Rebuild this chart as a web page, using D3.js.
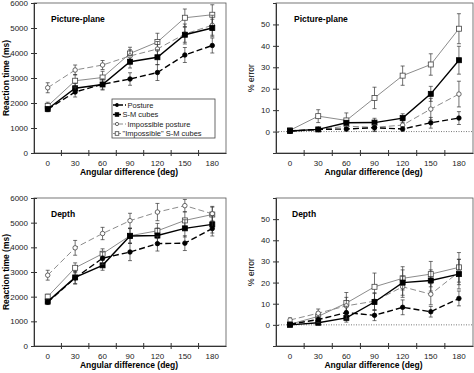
<!DOCTYPE html>
<html>
<head>
<meta charset="utf-8">
<title>rotation</title>
<script src="https://cdn.jsdelivr.net/npm/d3@7"></script>
<style>
  body { margin: 0; background: #fff; }
  text { font-family: Arial, "Liberation Sans", sans-serif; }
</style>
</head>
<body>
<svg width="474" height="373" id="mainsvg"></svg>
<script>
// angles (x categories)
const angles = [0, 30, 60, 90, 120, 150, 180];
const seriesNames = ['Posture', 'S-M cubes', 'Impossible posture', '"Impossible" S-M cubes'];

// reaction time, picture-plane (ms)
const rtPlanePosture = [1750, 2440, 2750, 2960, 3220, 3920, 4300];
const rtPlaneSM      = [1760, 2590, 2740, 3650, 3830, 4730, 5000];
const rtPlaneImpPos  = [2610, 3320, 3520, 3880, 4160, 4760, 5110];
const rtPlaneImpSM   = [1880, 2890, 3020, 3980, 4440, 5410, 5530];
const rtPlaneErr = [[100, 200, 200, 250, 320, 300, 300], [100, 200, 220, 250, 300, 300, 350],
                    [200, 200, 180, 250, 300, 400, 400], [150, 250, 250, 250, 350, 350, 400]];

// reaction time, depth (ms)
const rtDepthPosture = [1780, 2760, 3560, 3810, 4150, 4170, 4760];
const rtDepthSM      = [1800, 2780, 3270, 4460, 4480, 4770, 4930];
const rtDepthImpPos  = [2870, 3980, 4560, 5080, 5430, 5690, 5360];
const rtDepthImpSM   = [2000, 3170, 3740, 4470, 4670, 5090, 5330];
const rtDepthErr = [[100, 250, 250, 350, 300, 300, 300], [100, 250, 200, 300, 300, 350, 350],
                    [200, 300, 250, 300, 350, 250, 300], [100, 200, 200, 300, 300, 350, 300]];

// % error, picture-plane
const erPlanePosture = [0.2, 1, 1.2, 1.8, 1.2, 4.1, 6.3];
const erPlaneSM      = [0.3, 1, 4.1, 4.2, 6.3, 17.6, 33.3];
const erPlaneImpPos  = [0.5, 1, 2.5, 2, 3, 10.5, 17.5];
const erPlaneImpSM   = [0.6, 7.2, 5.2, 15.7, 26.1, 31.3, 48];
const erPlaneErr = [[0.5, 0.5, 1, 1.5, 1, 2.5, 3], [0.5, 0.5, 1, 2, 2, 3.5, 6.5],
                    [0.5, 0.5, 1.5, 2, 2, 5, 6], [1, 3, 3.5, 5, 4.5, 5, 7]];

// % error, depth
const erDepthPosture = [0.3, 2.5, 5.8, 4.5, 8.3, 6.2, 12.5];
const erDepthSM      = [0, 1, 3.3, 10.8, 20, 21, 24];
const erDepthImpPos  = [2.3, 5.5, 9, 11.2, 18, 14.5, 25];
const erDepthImpSM   = [0.3, 4, 10.3, 18, 22, 24, 27.2];
const erDepthErr = [[0.5, 1.5, 3, 2.5, 3.5, 2.5, 3.5], [0.5, 1, 2, 4, 6, 5, 7],
                    [1, 2, 4, 4, 5, 5, 6], [1, 2, 5, 6.5, 5.5, 6, 7]];

const rtTicks = [0, 1000, 2000, 3000, 4000, 5000, 6000];
const erTicks = [0, 10, 20, 30, 40, 50];

// series styles: posture, S-M, impossible posture, impossible S-M
const styles = [
  {line: '#000', dash: '6,3', width: 1.4, shape: 'circle', fill: '#000', mk: '#000'},
  {line: '#000', dash: null, width: 1.4, shape: 'square', fill: '#000', mk: '#000'},
  {line: '#8c8c8c', dash: '6,3', width: 1, shape: 'circle', fill: '#fff', mk: '#444'},
  {line: '#8c8c8c', dash: null, width: 1, shape: 'square', fill: '#fff', mk: '#444'}
];

const svg = d3.select('svg');

function drawMarker(g, st, x, y, size) {
  const s = size || 5;
  if (st.shape === 'circle') {
    g.append('circle').attr('cx', x).attr('cy', y).attr('r', s * 0.45)
      .attr('fill', st.fill).attr('stroke', st.mk).attr('stroke-width', 0.8);
  } else {
    g.append('rect').attr('x', x - s / 2).attr('y', y - s / 2).attr('width', s).attr('height', s)
      .attr('fill', st.fill).attr('stroke', st.mk).attr('stroke-width', 0.8);
  }
}

function panel(opt) {
  const g = svg.append('g');
  const x = d3.scaleBand().domain(angles).range([opt.x0, opt.x1]);
  const y = d3.scaleLinear().domain(opt.domain).range([opt.y1, opt.y0]);
  const cx = d => x(d) + x.bandwidth() / 2;

  // frame
  g.append('rect').attr('x', opt.x0).attr('y', opt.y0)
    .attr('width', opt.x1 - opt.x0).attr('height', opt.y1 - opt.y0)
    .attr('fill', 'none').attr('stroke', '#555').attr('stroke-width', 0.8);

  // y axis
  const ya = g.append('g').attr('transform', `translate(${opt.x0},0)`)
    .call(d3.axisLeft(y).tickValues(opt.ticks).tickSize(3).tickFormat(d3.format('d')));
  ya.select('.domain').attr('stroke', '#333');
  ya.selectAll('.tick line').attr('x2', 3).attr('x1', -3).attr('stroke', '#333');
  ya.selectAll('text').attr('x', -6).attr('font-size', 8).attr('fill', '#222');

  // x axis, ticks between categories
  const xa = g.append('g').attr('transform', `translate(0,${opt.y1})`)
    .call(d3.axisBottom(x).tickSize(0).tickPadding(7));
  xa.select('.domain').attr('stroke', '#333');
  xa.selectAll('text').attr('font-size', 8).attr('fill', '#222');
  g.selectAll('.sep').data(angles.slice(1)).join('line')
    .attr('x1', d => x(d)).attr('x2', d => x(d))
    .attr('y1', opt.y1 - 3).attr('y2', opt.y1 + 3)
    .attr('stroke', '#333');

  if (opt.zeroLine) {
    g.append('line').attr('x1', opt.x0).attr('x2', opt.x1)
      .attr('y1', y(0)).attr('y2', y(0))
      .attr('stroke', '#555').attr('stroke-width', 0.8).attr('stroke-dasharray', '1,1.5');
  }

  const line = d3.line().x((d, i) => cx(angles[i])).y(d => y(d));

  // draw grey series first, black on top
  [3, 2, 1, 0].forEach(s => {
    const st = styles[s];
    const vals = opt.series[s];
    const errs = opt.errors[s];
    vals.forEach((v, i) => {
      const px = cx(angles[i]);
      g.append('line').attr('x1', px).attr('x2', px)
        .attr('y1', y(v - errs[i])).attr('y2', y(v + errs[i]))
        .attr('stroke', '#333').attr('stroke-width', 0.7);
      [v - errs[i], v + errs[i]].forEach(e => {
        g.append('line').attr('x1', px - 2).attr('x2', px + 2)
          .attr('y1', y(e)).attr('y2', y(e))
          .attr('stroke', '#333').attr('stroke-width', 0.7);
      });
    });
    g.append('path').attr('d', line(vals)).attr('fill', 'none')
      .attr('stroke', st.line).attr('stroke-width', st.width)
      .attr('stroke-dasharray', st.dash);
    vals.forEach((v, i) => drawMarker(g, st, cx(angles[i]), y(v)));
  });

  g.append('text').attr('x', opt.labelX).attr('y', opt.y0 + 19)
    .attr('font-size', 8.5).attr('font-weight', 'bold').text(opt.label);
  g.append('text').attr('x', (opt.x0 + opt.x1) / 2 - 1).attr('y', opt.y1 + 22)
    .attr('text-anchor', 'middle').attr('font-size', 8.5).attr('font-weight', 'bold')
    .text('Angular difference (deg)');
  g.append('text')
    .attr('transform', `translate(${opt.yTitleX},${(opt.y0 + opt.y1) / 2}) rotate(-90)`)
    .attr('text-anchor', 'middle').attr('font-size', 8.5)
    .attr('font-weight', opt.yTitleBold ? 'bold' : 'normal')
    .text(opt.yTitle);
  return g;
}

panel({x0: 34, x1: 226, y0: 3, y1: 153, domain: [0, 6000], ticks: rtTicks,
  series: [rtPlanePosture, rtPlaneSM, rtPlaneImpPos, rtPlaneImpSM], errors: rtPlaneErr,
  label: 'Picture-plane', labelX: 51, yTitle: 'Reaction time (ms)', yTitleX: 9, yTitleBold: true});
panel({x0: 276, x1: 473, y0: 3, y1: 153, domain: [-10, 60], ticks: erTicks, zeroLine: true,
  series: [erPlanePosture, erPlaneSM, erPlaneImpPos, erPlaneImpSM], errors: erPlaneErr,
  label: 'Picture-plane', labelX: 294, yTitle: '% error', yTitleX: 254});
panel({x0: 34, x1: 226, y0: 198, y1: 346, domain: [0, 6000], ticks: rtTicks,
  series: [rtDepthPosture, rtDepthSM, rtDepthImpPos, rtDepthImpSM], errors: rtDepthErr,
  label: 'Depth', labelX: 51, yTitle: 'Reaction time (ms)', yTitleX: 9, yTitleBold: true});
panel({x0: 276, x1: 473, y0: 198, y1: 346, domain: [-10, 60], ticks: erTicks, zeroLine: true,
  series: [erDepthPosture, erDepthSM, erDepthImpPos, erDepthImpSM], errors: erDepthErr,
  label: 'Depth', labelX: 292, yTitle: '% error', yTitleX: 254});

// legend (top-left panel)
const legend = svg.append('g');
legend.append('rect').attr('x', 112).attr('y', 99).attr('width', 103).attr('height', 39)
  .attr('fill', '#fff').attr('stroke', '#444').attr('stroke-width', 0.8);
seriesNames.forEach((name, i) => {
  const st = styles[i];
  const ly = 105 + i * 9.5;
  const end = st.dash ? 126 : 121;
  legend.append('line').attr('x1', 113).attr('x2', end).attr('y1', ly).attr('y2', ly)
    .attr('stroke', st.line).attr('stroke-width', st.width)
    .attr('stroke-dasharray', st.dash ? '4,2' : null);
  drawMarker(legend, st, 117, ly, 3.6);
  legend.append('text').attr('x', end + 1.5).attr('y', ly + 2.8)
    .attr('font-size', 7.5).attr('fill', '#222').text(name);
});
</script>
</body>
</html>
